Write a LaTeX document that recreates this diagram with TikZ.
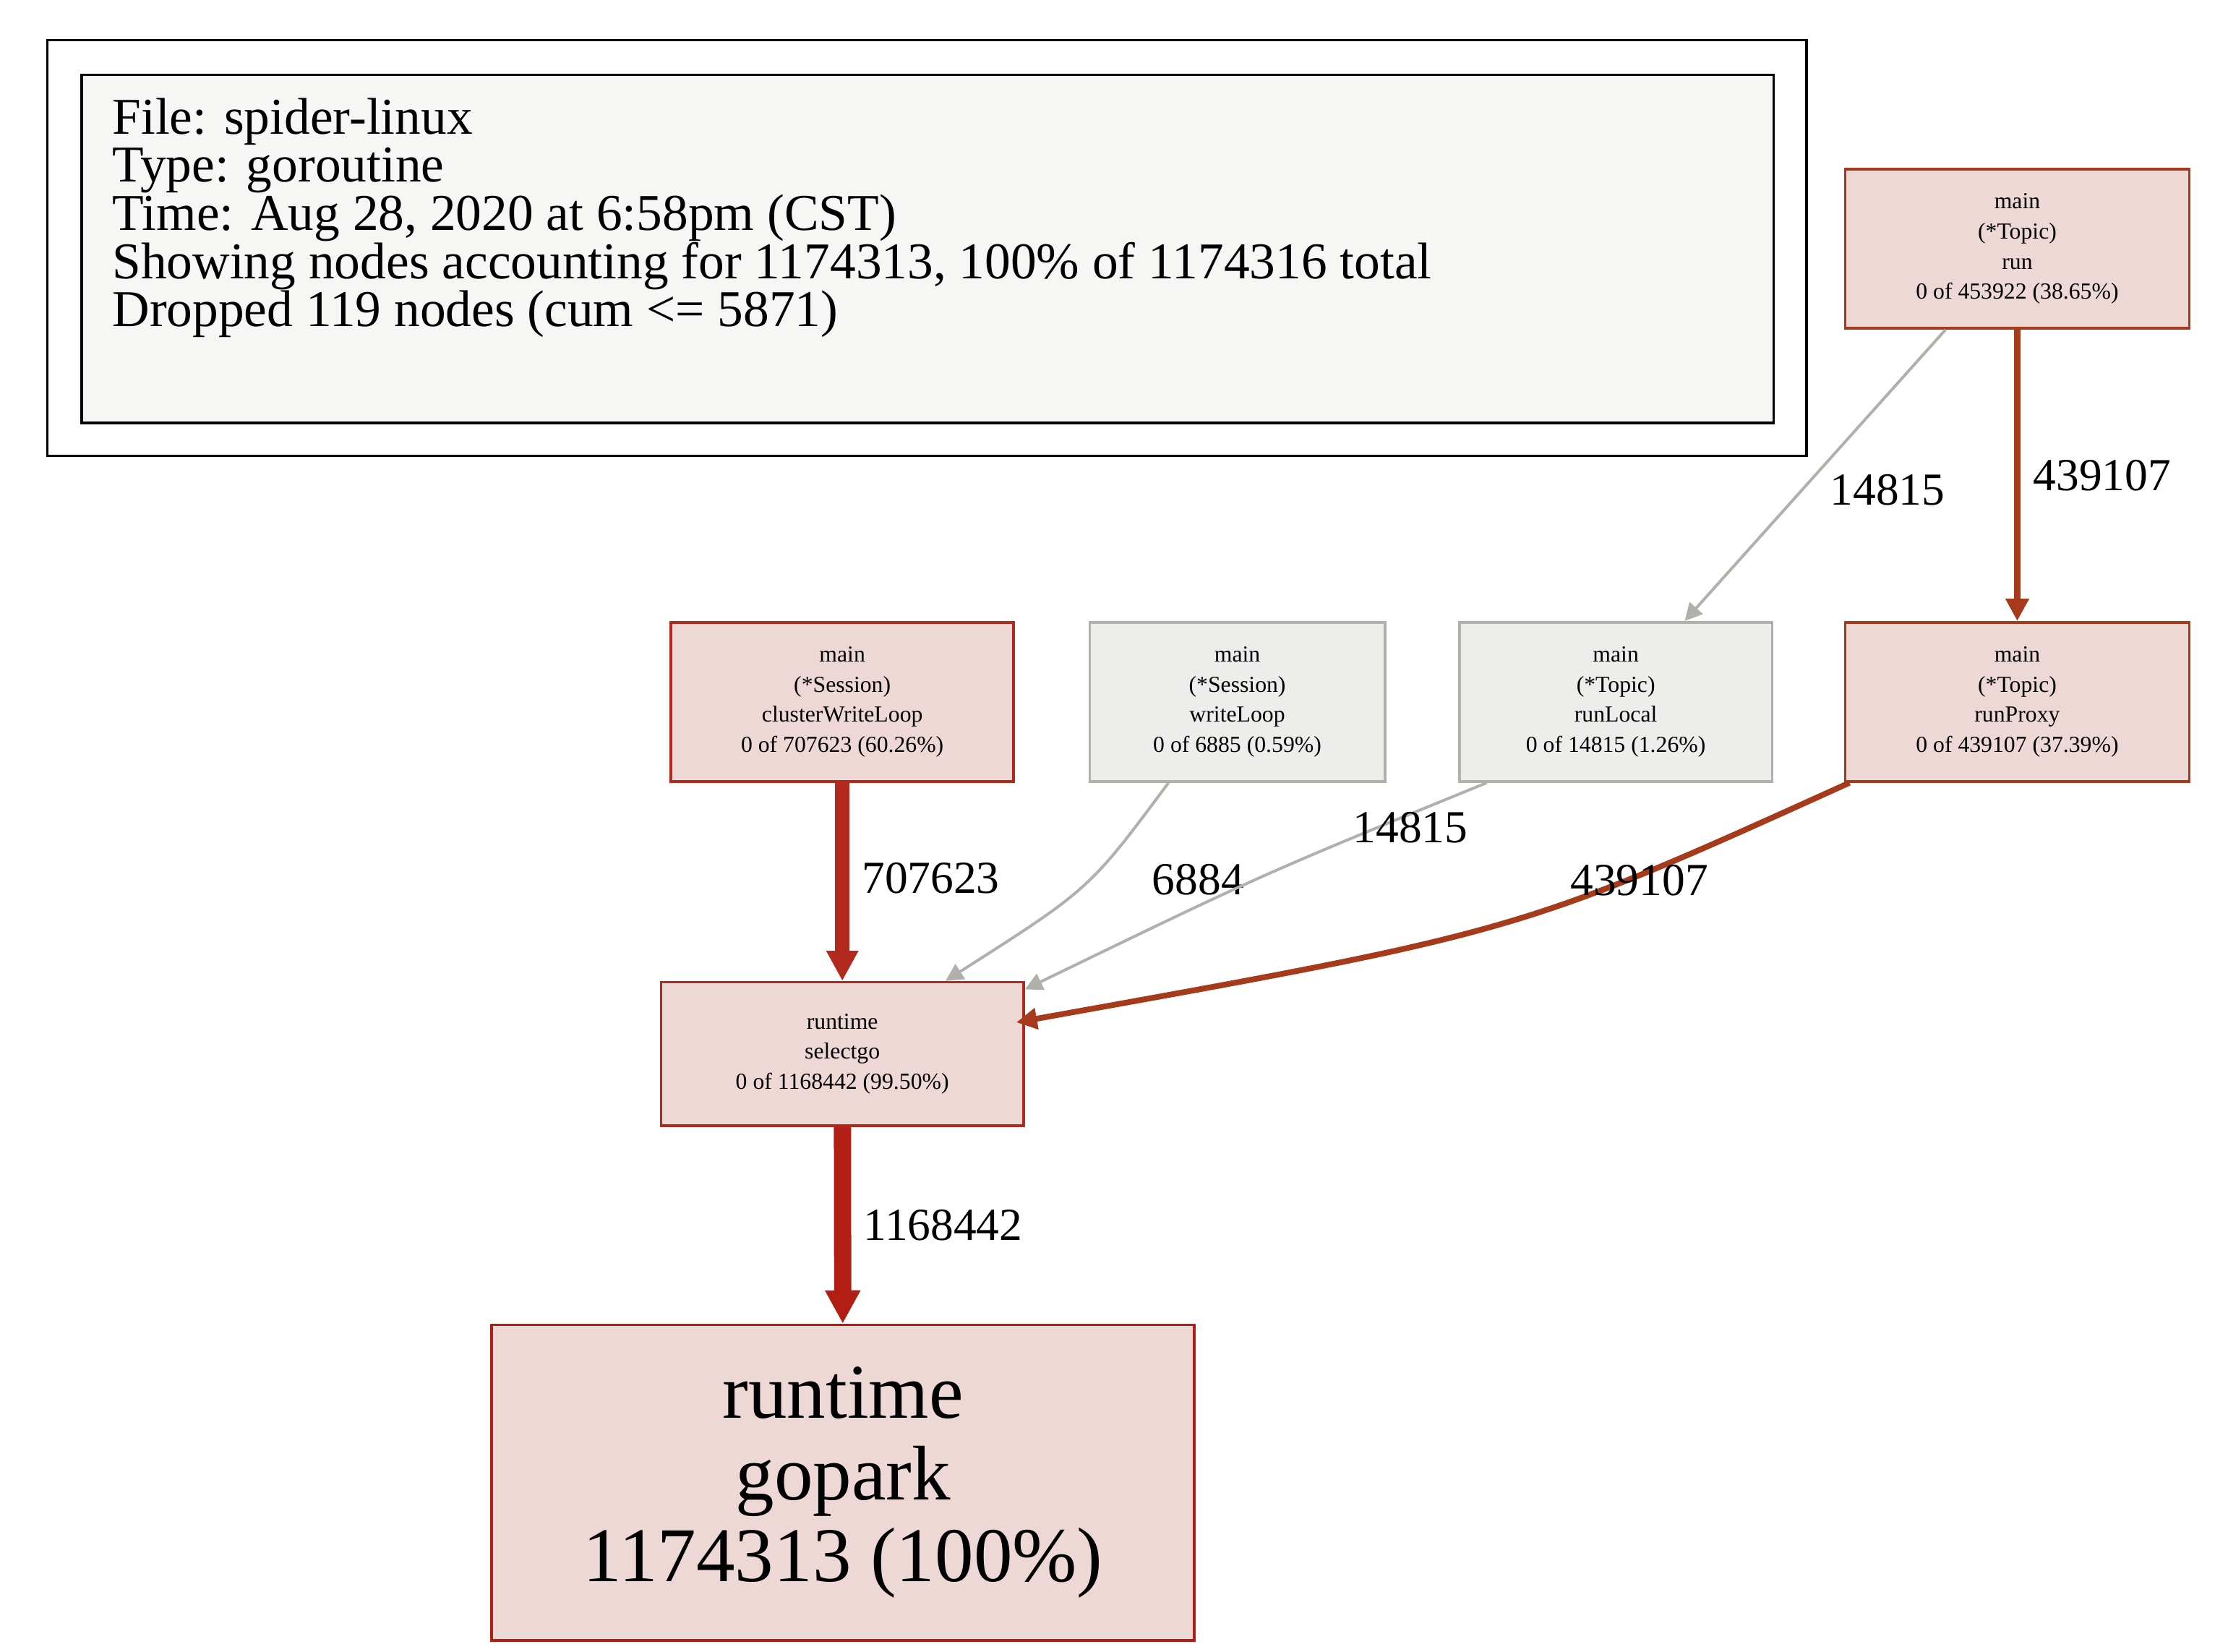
\documentclass[tikz,border=0pt]{standalone}
\usepackage{fontspec}
\setmainfont{Liberation Serif}
\usetikzlibrary{arrows.meta,calc,positioning}
\definecolor{hotfill}{HTML}{EDD8D6}
\definecolor{hotline}{HTML}{B22A1E}
\definecolor{warmline}{HTML}{A63B1C}
\definecolor{coolfill}{HTML}{EDEDEC}
\definecolor{coolline}{HTML}{B2B0AA}
\definecolor{hotterline}{HTML}{B21E14}

\tikzset{
    fn/.style={draw, line width=0.9pt, align=center, inner sep=0pt, font=\fontsize{8}{10.5}\selectfont},
    hot/.style={fn, fill=hotfill, draw=hotline},
    warm/.style={fn, fill=hotfill, draw=warmline},
    cool/.style={fn, fill=coolfill, draw=coolline},
    call/.style={-{Triangle[length=#1*1.1pt+5pt, width=#1*1.1pt+5pt]}, line width=#1 pt},
    lbl/.style={font=\fontsize{16}{16}\selectfont}
}

\begin{document}
\begin{tikzpicture}[x=0.5pt, y=-0.5pt]
    \useasboundingbox (0,0) rectangle (1554,1152);

    % legend
    \draw[line width=0.8pt] (33,28) rectangle (1260,318);
    \draw[line width=0.8pt, fill=coolfill!50] (57,52) rectangle (1237,295);
    \node[anchor=north west, align=left, inner sep=0pt, font=\fontsize{18}{16.8}\selectfont] (legend) at (78,68)
        {File: spider-linux\\Type: goroutine\\Time: Aug 28, 2020 at 6:58pm (CST)\\Showing nodes accounting for 1174313, 100\% of 1174316 total\\Dropped 119 nodes (cum <= 5871)};

    % functions
    \node[warm, minimum width=120pt, minimum height=55.5pt] (run) at (1407,173.5) {main\\(*Topic)\\run\\0 of 453922 (38.65\%)};
    \node[hot, minimum width=119.5pt, minimum height=55.5pt] (cwl) at (587.5,489.5) {main\\(*Session)\\clusterWriteLoop\\0 of 707623 (60.26\%)};
    \node[cool, minimum width=103pt, minimum height=55.5pt] (wl) at (863,489.5) {main\\(*Session)\\writeLoop\\0 of 6885 (0.59\%)};
    \node[cool, minimum width=109pt, minimum height=55.5pt] (rl) at (1127,489.5) {main\\(*Topic)\\runLocal\\0 of 14815 (1.26\%)};
    \node[warm, minimum width=120pt, minimum height=55.5pt] (rp) at (1407,489.5) {main\\(*Topic)\\runProxy\\0 of 439107 (37.39\%)};
    \node[hot, minimum width=126.5pt, minimum height=50pt] (sel) at (587.5,735) {runtime\\selectgo\\0 of 1168442 (99.50\%)};
    \node[hot, draw=hotterline, minimum width=245pt, minimum height=110pt, font=\fontsize{27}{28.5}\selectfont] (park) at (588,1034) {runtime\\gopark\\1174313 (100\%)};

    % calls
    \draw[call=1, coolline] ($(run.south)+(-50,0)$) -- ($(rl.north)+(48,0)$)
        node[lbl, pos=0.55, right=6pt, text=black] {14815};
    \draw[call=2.5, warmline] (run) -- (rp)
        node[lbl, midway, right=1pt, text=black] {439107};
    \draw[call=5, hotline] (cwl) -- (sel)
        node[lbl, pos=0.48, right=1pt, text=black] {707623};
    \draw[call=1, coolline] ($(wl.south)+(-48,0)$) .. controls (760,620) .. ($(sel.north)+(72,0)$)
        node[lbl, pos=0.45, right=18pt, text=black] {6884};
    \draw[call=1, coolline] ($(rl.south)+(-90,0)$) .. controls (880,610) .. ($(sel.east)+(0,-45)$)
        node[lbl, pos=0.35, above right=0pt and 10pt, text=black] {14815};
    \draw[call=2, warmline] ($(rp.south)+(-117,0)$) .. controls (1060,650) .. ($(sel.east)+(-6,-22)$)
        node[lbl, pos=0.15, below left=4pt and 0pt, text=black] {439107};
    \draw[call=6, hotterline] (sel) -- (park)
        node[lbl, midway, right=1pt, text=black] {1168442};
\end{tikzpicture}
\end{document}
